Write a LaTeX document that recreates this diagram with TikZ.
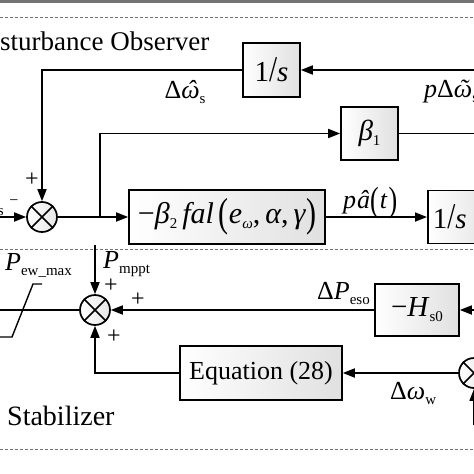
\documentclass[tikz,border=0pt]{standalone}
\usepackage{fontspec}
\setmainfont{Liberation Serif}
\usetikzlibrary{arrows.meta,calc}
\newcommand\sbs[1]{\raisebox{-5pt}{\fontsize{15}{15}\selectfont #1}}
\newcommand\hatw{\ooalign{\textit{ω}\cr\hidewidth\kern3pt\textit{ˆ}\hidewidth\cr}}
\newcommand\tildew{\ooalign{\textit{ω}\cr\hidewidth\kern3pt\textit{˜}\hidewidth\cr}}
\newcommand\bigp[1]{\raisebox{-3.5pt}{\scalebox{1}[1.35]{#1}}}
\begin{document}
\begin{tikzpicture}[x=1pt,y=-1pt,
 ln/.style={line width=1.7pt},
 arr/.style={ln,-{Triangle[length=12pt,width=9pt]}},
 blk/.style={draw, line width=1.7pt, left color=white, right color=black!12, inner sep=0pt, font=\fontsize{29}{31}\selectfont},
 sumj/.style={draw, circle, line width=1.7pt, minimum size=30pt, inner sep=0pt, left color=white, right color=black!10},
 lab/.style={font=\fontsize{26}{28}\selectfont, inner sep=0pt},
 pm/.style={font=\fontsize{24}{24}\selectfont, inner sep=0pt},
 ttl/.style={font=\fontsize{27}{30}\selectfont, inner sep=0pt},
 sep/.style={draw=black!55, line width=0.8pt, dash pattern=on 3pt off 2pt}
]
\useasboundingbox (0,0) rectangle (474,474);
\clip (0,0) rectangle (474,474);
\fill[white] (0,0) rectangle (474,474);
% frame lines
\fill[black!55] (0,0) rectangle (474,3);
\draw[sep] (0,17) -- (474,17);
\draw[sep] (0,249) -- (474,249);
\draw[sep] (0,449) -- (474,449);
% titles
\node[ttl, anchor=base west] (tobs) at (0,50) {sturbance Observer};
\node[ttl, font=\fontsize{28}{30}\selectfont, anchor=base west] (tstab) at (7,425) {Stabilizer};
% blocks
\node[blk, minimum width=57pt, minimum height=54pt] (int1) at (271.5,70) {1\scalebox{1}[1.25]{/}\textit{s}};
\node[blk, minimum width=57pt, minimum height=53pt] (beta1) at (369.5,133.5) {\textit{β}\sbs{1}};
\node[blk, minimum width=196pt, minimum height=54pt, font=\fontsize{30}{32}\selectfont] (fal) at (227,217) {−\textit{β}\sbs{2}\,\textit{fal}\,\bigp{(}\textit{e}\sbs{\textit{ω}},\,\textit{α},\,\textit{γ}\bigp{)}};
\node[blk, anchor=west, text width=60pt, align=left, inner xsep=5pt, minimum height=53pt] (int2) at (427,217) {1\scalebox{1}[1.25]{/}\textit{s}};
\node[blk, minimum width=84pt, minimum height=52pt] (hs0) at (417,310) {−\textit{H}\sbs{s0}};
\node[blk, minimum width=162pt, minimum height=54pt, font=\fontsize{26}{28}\selectfont] (eq) at (261,373) {Equation (28)};
% summing junctions
\node[sumj] (s1) at (42,217) {};
\node[sumj] (s2) at (95,310) {};
\node[sumj] (s3) at (474,373) {};
\foreach \s in {s1,s2,s3}{
  \draw[ln] (\s.north west) -- (\s.south east) (\s.north east) -- (\s.south west);
}
% coordinates
\coordinate (fbR) at (480,70);
\coordinate (fbL) at (42,70);
\coordinate (in1) at (-5,217);
\coordinate (br) at (100,217);
\coordinate (b1R) at (480,133.5);
\coordinate (pm) at (95,245);
\coordinate (hsR) at (480,310);
\coordinate (out2) at (-5,310);
\coordinate (s3in) at (474,425);
% connectors
\draw[arr] (fbR) -- (int1.east);
\draw[arr] (int1.west) -- (fbL) -- (s1.north);
\draw[arr] (in1) -- (s1.west);
\draw[arr] (s1.east) -- (fal.west);
\draw[arr] (br) |- (beta1.west);
\draw[ln] (beta1.east) -- (b1R);
\draw[arr] (fal.east) -- (int2.west);
\draw[arr] (pm) -- (s2.north);
\draw[arr] (hs0.west) -- (s2.east);
\draw[arr] (hsR) -- (hs0.east);
\draw[ln] (s2.west) -- (out2);
\draw[arr] (eq.west) -| (s2.south);
\draw[arr] (s3.west) -- (eq.east);
\draw[arr] (s3in) -- (s3.south);
% saturation
\draw[line width=1.4pt] (42,284) -- (33,284) -- (12,337) -- (0,337);
% labels
\node[lab, anchor=base] (lws) at (185,98) {Δ\hatw\sbs{s}};
\node[lab, anchor=base west] (lpdw) at (424,97) {\textit{p}Δ\tildew\sbs{s}};
\node[lab, anchor=base west] (lpa) at (343,208) {\textit{p}\kern1pt\textit{â}\bigp{(}\kern1pt\textit{t}\kern1pt\bigp{)}};
\node[lab, anchor=base west] (lpe) at (317,299) {Δ\textit{P}\sbs{eso}};
\node[lab, anchor=base west] (lww) at (390,399) {Δ\textit{ω}\sbs{w}};
\node[lab, anchor=base west] (lpmax) at (5,270) {\textit{P}\sbs{ew\_max}};
\node[lab, anchor=base west] (lppt) at (103,268) {\textit{P}\sbs{mppt}};
\node[font=\fontsize{15}{15}\selectfont, inner sep=0pt, anchor=east] (ls) at (4,212) {s};
\node[font=\fontsize{16}{16}\selectfont, inner sep=0pt] (lmin) at (14,203) {−};
\node[pm] (p1) at (32,180) {+};
\node[pm] (p2) at (111,286) {+};
\node[pm] (p3) at (138,300) {+};
\node[pm] (p4) at (114,337) {+};
\end{tikzpicture}
\end{document}
